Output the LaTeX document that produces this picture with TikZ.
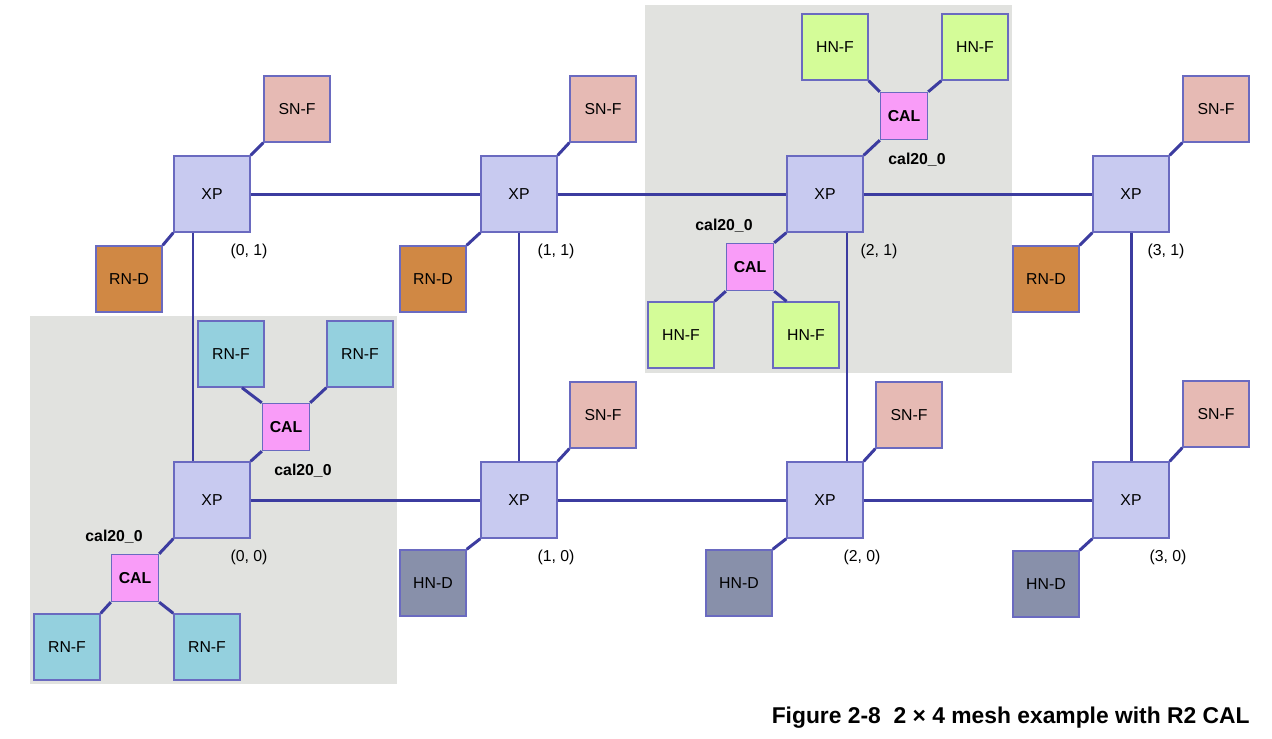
\documentclass[tikz,border=0pt]{standalone}
\usepackage{fontspec}
\setmainfont{Liberation Sans}
\usetikzlibrary{positioning}
\definecolor{linkblue}{HTML}{3C3CA0}
\definecolor{edgeblue}{HTML}{6A6AC0}
\definecolor{xpfill}{HTML}{C8CAF0}
\definecolor{snfill}{HTML}{E6BAB4}
\definecolor{rndfill}{HTML}{D08844}
\definecolor{hndfill}{HTML}{8890AA}
\definecolor{rnffill}{HTML}{94D0DE}
\definecolor{hnffill}{HTML}{D4FC98}
\definecolor{calfill}{HTML}{F99CF8}
\definecolor{regionfill}{HTML}{E1E2DF}
\begin{document}
\begin{tikzpicture}[x=0.02cm,y=-0.02cm,
    box/.style={draw=edgeblue,line width=0.8pt,inner sep=0pt,font=\fontsize{9}{10}\selectfont},
    xp/.style={box,fill=xpfill,minimum size=1.52cm},
    leaf/.style={box,minimum size=1.32cm},
    cal/.style={box,fill=calfill,minimum size=0.94cm,font=\fontsize{9}{10}\selectfont\bfseries},
    coord/.style={font=\fontsize{9}{10}\selectfont},
    calname/.style={font=\fontsize{9}{10}\selectfont\bfseries},
    link/.style={draw=linkblue,line width=1.7pt}]
  \useasboundingbox (0,0) rectangle (1272,738);
  \fill[regionfill] (30,316) rectangle (397,684);
  \fill[regionfill] (645,5) rectangle (1012,373);
  \node[xp] (x01) at (212,194) {XP};
  \node[xp] (x11) at (519,194) {XP};
  \node[xp] (x21) at (825,194) {XP};
  \node[xp] (x31) at (1131,194) {XP};
  \node[xp] (x00) at (212,500) {XP};
  \node[xp] (x10) at (519,500) {XP};
  \node[xp] (x20) at (825,500) {XP};
  \node[xp] (x30) at (1131,500) {XP};
  \node[leaf,fill=snfill] (s01) at (297,109) {SN-F};
  \node[leaf,fill=snfill] (s11) at (603,109) {SN-F};
  \node[leaf,fill=snfill] (s31) at (1216,109) {SN-F};
  \node[leaf,fill=snfill] (s10) at (603,415) {SN-F};
  \node[leaf,fill=snfill] (s20) at (909,415) {SN-F};
  \node[leaf,fill=snfill] (s30) at (1216,414) {SN-F};
  \node[leaf,fill=rndfill] (r01) at (129,279) {RN-D};
  \node[leaf,fill=rndfill] (r11) at (433,279) {RN-D};
  \node[leaf,fill=rndfill] (r31) at (1046,279) {RN-D};
  \node[leaf,fill=hndfill] (h10) at (433,583) {HN-D};
  \node[leaf,fill=hndfill] (h20) at (739,583) {HN-D};
  \node[leaf,fill=hndfill] (h30) at (1046,584) {HN-D};
  \node[cal] (c00a) at (286,427) {CAL};
  \node[cal] (c00b) at (135,578) {CAL};
  \node[leaf,fill=rnffill] (f1) at (231,354) {RN-F};
  \node[leaf,fill=rnffill] (f2) at (360,354) {RN-F};
  \node[leaf,fill=rnffill] (f3) at (67,647) {RN-F};
  \node[leaf,fill=rnffill] (f4) at (207,647) {RN-F};
  \node[cal] (c21a) at (904,116) {CAL};
  \node[cal] (c21b) at (750,267) {CAL};
  \node[leaf,fill=hnffill] (g1) at (835,47) {HN-F};
  \node[leaf,fill=hnffill] (g2) at (975,47) {HN-F};
  \node[leaf,fill=hnffill] (g3) at (681,335) {HN-F};
  \node[leaf,fill=hnffill] (g4) at (806,335) {HN-F};
  \node[coord] (l01) at (249,251) {(0, 1)};
  \node[coord] (l11) at (556,251) {(1, 1)};
  \node[coord] (l21) at (879,251) {(2, 1)};
  \node[coord] (l31) at (1166,251) {(3, 1)};
  \node[coord] (l00) at (249,557) {(0, 0)};
  \node[coord] (l10) at (556,557) {(1, 0)};
  \node[coord] (l20) at (862,557) {(2, 0)};
  \node[coord] (l30) at (1168,557) {(3, 0)};
  \node[calname] (n00a) at (303,471) {cal20\_0};
  \node[calname] (n00b) at (114,537) {cal20\_0};
  \node[calname] (n21a) at (917,160) {cal20\_0};
  \node[calname] (n21b) at (724,226) {cal20\_0};
  \node[anchor=east,inner sep=0pt,font=\fontsize{13}{15}\selectfont\bfseries] (cap) at (1250,718) {Figure 2-8\ \ 2 × 4 mesh example with R2 CAL};
  \draw[link] (x01) -- (x11);
  \draw[link] (x11) -- (x21);
  \draw[link] (x21) -- (x31);
  \draw[link] (x00) -- (x10);
  \draw[link] (x10) -- (x20);
  \draw[link] (x20) -- (x30);
  \draw[link] ([xshift=-0.38cm]x01.south) -- ([xshift=-0.38cm]x00.north);
  \draw[link] (x11.south) -- (x10.north);
  \draw[link] ([xshift=0.44cm]x21.south) -- ([xshift=0.44cm]x20.north);
  \draw[link] (x31.south) -- (x30.north);
  \draw[link] (x01.north east) -- (s01.south west);
  \draw[link] (x11.north east) -- (s11.south west);
  \draw[link] (x31.north east) -- (s31.south west);
  \draw[link] (x10.north east) -- (s10.south west);
  \draw[link] (x20.north east) -- (s20.south west);
  \draw[link] (x30.north east) -- (s30.south west);
  \draw[link] (x01.south west) -- (r01.north east);
  \draw[link] (x11.south west) -- (r11.north east);
  \draw[link] (x31.south west) -- (r31.north east);
  \draw[link] (x10.south west) -- (h10.north east);
  \draw[link] (x20.south west) -- (h20.north east);
  \draw[link] (x30.south west) -- (h30.north east);
  \draw[link] (x00.north east) -- (c00a.south west);
  \draw[link] (c00a.north west) -- (f1.-72);
  \draw[link] (c00a.north east) -- (f2.south west);
  \draw[link] (x00.south west) -- (c00b.north east);
  \draw[link] (c00b.south west) -- (f3.north east);
  \draw[link] (c00b.south east) -- (f4.north west);
  \draw[link] (x21.north east) -- (c21a.south west);
  \draw[link] (c21a.north west) -- (g1.south east);
  \draw[link] (c21a.north east) -- (g2.south west);
  \draw[link] (x21.south west) -- (c21b.north east);
  \draw[link] (c21b.south west) -- (g3.north east);
  \draw[link] (c21b.south east) -- (g4.120);
\end{tikzpicture}
\end{document}
